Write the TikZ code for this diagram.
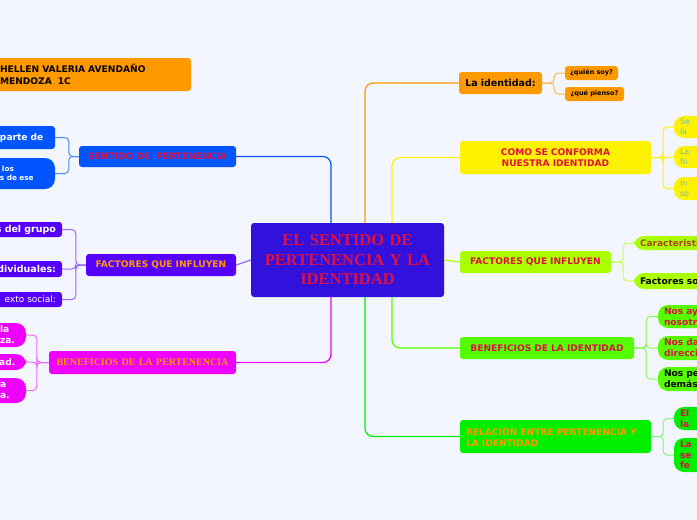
\documentclass[tikz,border=0pt]{standalone}
\usepackage{fontspec}
\setmainfont{DejaVu Sans}
\newfontfamily\serifb{Liberation Serif}
\definecolor{bg}{HTML}{F3F6FE}
\definecolor{cor}{HTML}{FF9900}
\definecolor{cen}{HTML}{3311DD}
\definecolor{crim}{HTML}{DD1144}
\definecolor{blu}{HTML}{0055FF}
\definecolor{pur}{HTML}{5500FF}
\definecolor{mag}{HTML}{EE00FF}
\definecolor{yel}{HTML}{FFF200}
\definecolor{lim}{HTML}{AAFF00}
\definecolor{grn}{HTML}{55FF00}
\definecolor{gr2}{HTML}{00EE00}
\definecolor{lbl}{HTML}{66BBDD}
\definecolor{brn}{HTML}{AA4422}
\newcommand{\bx}[9]{\node[bxs,fill=#6,text=#7,minimum width=#4pt-#2pt,minimum height=#5pt-#3pt,text width=#4pt-#2pt-12pt,#8] (#1) at ({(#2+#4)/2},{(#3+#5)/2}) {#9};}
\begin{document}
\begin{tikzpicture}[x=1pt,y=-1pt,
 bxs/.style={rounded corners=3pt,inner sep=0pt,font=\fontsize{9.1}{11}\bfseries\selectfont,align=center},
 lft/.style={align=left},
 rgt/.style={align=right},
 pill/.style={rounded corners=10pt},
 con/.style={line width=1.2pt,rounded corners=8pt},
 brk/.style={line width=1pt,rounded corners=4pt}]
\fill[bg] (0,0) rectangle (697,520);
\useasboundingbox (0,0) rectangle (697,520);
\clip (0,0) rectangle (697,520);
% center
\bx{c}{251}{223}{444}{297}{cen}{crim}{font=\serifb\fontsize{16.5}{19.5}\bfseries\selectfont,text width=185pt}{EL SENTIDO DE\\PERTENENCIA Y LA\\IDENTIDAD}
\bx{au}{-10}{58}{187}{91}{cor}{black}{lft,xshift=4pt,font=\fontsize{9.1}{11.5}\bfseries\selectfont}{HELLEN VALERIA AVENDAÑO\\MENDOZA\ \ 1C}
% left branches
\bx{l1}{79}{146}{236}{167}{blu}{crim}{}{SENTIDO DE\ \ PERTENENCIA}
\bx{l1a}{-30}{126}{55}{149}{blu}{white}{lft}{\hspace*{24pt}parte de}
\bx{l1b}{-30}{158}{55}{189}{blu}{white}{lft,pill,font=\fontsize{7.3}{9}\bfseries\selectfont}{\hspace*{26pt}los\\\hspace*{24pt}s de ese}
\bx{l2}{86}{254}{236}{276}{pur}{cor}{}{FACTORES QUE INFLUYEN}
\bx{l2a}{-40}{222}{62}{237}{pur}{white}{rgt,font=\fontsize{9.5}{10}\bfseries\selectfont}{us del grupo}
\bx{l2b}{-40}{261}{62}{277}{pur}{white}{rgt,font=\fontsize{9.5}{10}\bfseries\selectfont}{dividuales:}
\bx{l2c}{-40}{292}{62}{307}{pur}{white}{rgt,font=\fontsize{9}{10}\selectfont}{exto social:}
\bx{l3}{49}{351}{236}{374}{mag}{cor}{font=\serifb\fontsize{10}{11}\bfseries\selectfont}{BENEFICIOS DE LA PERTENENCIA}
\bx{l3a}{-40}{323}{26}{347}{mag}{white}{lft,pill}{\hspace*{34pt}la\\\hspace*{34pt}za.}
\bx{l3b}{-40}{354}{26}{370}{mag}{white}{lft,pill}{\hspace*{30pt}lad.}
\bx{l3c}{-40}{378}{26}{403}{mag}{white}{lft,pill}{\hspace*{34pt}a\\\hspace*{34pt}a.}
% right branches
\bx{r1}{459}{72}{542}{94}{cor}{black}{font=\fontsize{9.5}{10}\bfseries\selectfont}{La identidad:}
\bx{r1a}{565}{66}{618}{80}{cor}{black}{font=\fontsize{6.5}{7}\bfseries\selectfont,text width=50pt}{¿quién soy?}
\bx{r1b}{565}{87}{624}{101}{cor}{black}{font=\fontsize{6.5}{7}\bfseries\selectfont,text width=56pt}{¿qué pienso?}
\bx{r2}{460}{141}{651}{174}{yel}{crim}{}{COMO SE CONFORMA NUESTRA IDENTIDAD}
\bx{r2a}{674}{116}{760}{138}{yel}{lbl}{lft,pill,font=\fontsize{8}{10}\selectfont}{Se\\la}
\bx{r2b}{674}{146}{760}{168}{yel}{lbl}{lft,pill,font=\fontsize{8}{10}\selectfont}{La\\fo}
\bx{r2c}{674}{177}{760}{200}{yel}{lbl}{lft,pill,font=\fontsize{8}{10}\selectfont}{In\\so}
\bx{r3}{460}{251}{611}{273}{lim}{crim}{}{FACTORES QUE INFLUYEN}
\bx{r3a}{634}{236}{760}{250}{lim}{brn}{lft,pill,font=\fontsize{9}{9}\bfseries\selectfont}{Caracteristicas}
\bx{r3b}{634}{273}{760}{289}{lim}{black}{lft,pill}{Factores sociales}
\bx{r4}{460}{337}{634}{359}{grn}{crim}{}{BENEFICIOS DE LA IDENTIDAD}
\bx{r4a}{658}{305}{760}{328}{grn}{crim}{lft,pill}{Nos ayudan\\nosotros}
\bx{r4b}{658}{336}{760}{360}{grn}{crim}{lft,pill}{Nos dan\\direccion}
\bx{r4c}{658}{367}{760}{391}{grn}{black}{lft,pill}{Nos permite\\demás}
\bx{r5}{460}{420}{651}{453}{gr2}{cor}{lft}{RELACIÓN ENTRE PERTENENCIA Y LA IDENTIDAD}
\bx{r5a}{674}{407}{760}{430}{gr2}{crim}{lft,pill}{El\\la}
\bx{r5b}{674}{438}{760}{472}{gr2}{crim}{lft,pill,font=\fontsize{9}{10.5}\bfseries\selectfont}{La\\se\\fe}
% trunk coordinates
\coordinate (tL1) at (331,223); \coordinate (tL3) at (331,297);
\coordinate (tR1) at (365,223); \coordinate (tR2) at (392,223);
\coordinate (tR4) at (392,297); \coordinate (tR5) at (365,297);
\draw[con,blu] (tL1) |- (l1.east);
\draw[con,pur!60] (c.west) -- (l2.east);
\draw[con,mag] (tL3) |- (l3.east);
\draw[con,cor] (tR1) |- (r1.west);
\draw[con,yel] (tR2) |- (r2.west);
\draw[con,lim] (c.east) -- (r3.west);
\draw[con,grn] (tR4) |- (r4.west);
\draw[con,gr2] (tR5) |- (r5.west);
% child brackets
\foreach \a in {l1a,l1b} \draw[brk,blu!70] (l1.west) -- ++(-10,0) |- (\a.east);
\foreach \a in {l2a,l2b,l2c} \draw[brk,pur!60] (l2.west) -- ++(-10,0) |- (\a.east);
\foreach \a in {l3a,l3b,l3c} \draw[brk,mag!60] (l3.west) -- ++(-12,0) |- (\a.east);
\foreach \a in {r1a,r1b} \draw[brk,cor!70] (r1.east) -- ++(12,0) |- (\a.west);
\foreach \a in {r2a,r2b,r2c} \draw[brk,yel] (r2.east) -- ++(12,0) |- (\a.west);
\foreach \a in {r3a,r3b} \draw[brk,lim!70] (r3.east) -- ++(12,0) |- (\a.west);
\foreach \a in {r4a,r4b,r4c} \draw[brk,grn!70] (r4.east) -- ++(12,0) |- (\a.west);
\foreach \a in {r5a,r5b} \draw[brk,gr2!50] (r5.east) -- ++(12,0) |- (\a.west);
\end{tikzpicture}
\end{document}
